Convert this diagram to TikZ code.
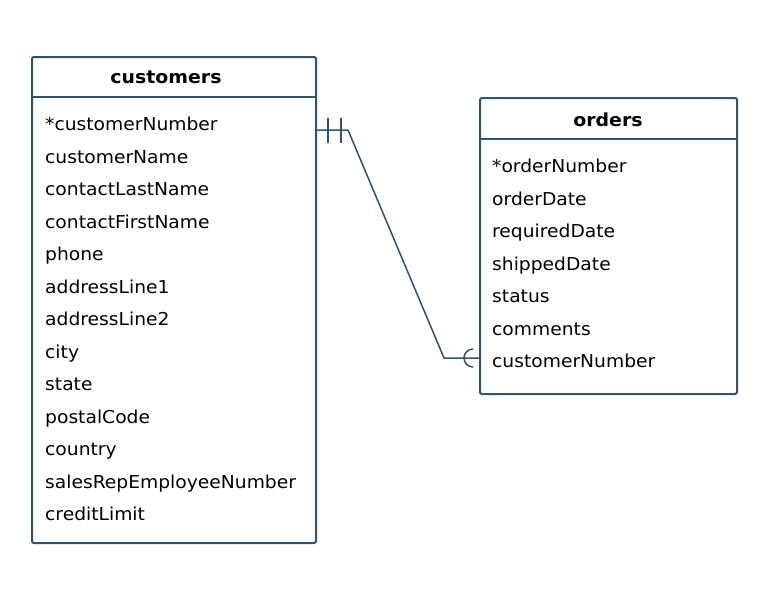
\documentclass[tikz,border=0pt]{standalone}
\usepackage{fontspec}
\setmainfont{DejaVu Sans}[FakeStretch=1.05]
\usetikzlibrary{calc}
\definecolor{edge}{HTML}{33526C}
\tikzset{
  entity/.style={draw=edge, line width=2pt, rounded corners=2pt, inner sep=0pt},
  hline/.style={draw=edge, line width=1.2pt},
  title/.style={font=\fontsize{18}{20}\selectfont\bfseries, anchor=base, inner sep=0pt},
  field/.style={font=\fontsize{17.8}{20}\selectfont, anchor=base west, inner sep=0pt},
  conn/.style={draw=edge, line width=1.5pt, line join=round},
  relmark/.style={draw=edge, line width=1.5pt}
}
\begin{document}
\begin{tikzpicture}[x=1pt,y=-1pt]
\useasboundingbox[fill=white] (0,0) rectangle (768,600);
% customers
\node[entity, minimum width=284pt, minimum height=486pt] (cust) at (174,300) {};
\draw[hline] (32,97) -- (316,97);
\node[title] (ct) at (166,83.5) {customers};
\foreach \t [count=\i] in {*customerNumber,customerName,contactLastName,contactFirstName,phone,addressLine1,addressLine2,city,state,postalCode,country,salesRepEmployeeNumber,creditLimit}{
  \node[field] (c\i) at (45,{130.5+32.5*(\i-1)}) {\t};
}
% orders
\node[entity, minimum width=257pt, minimum height=296pt] (ord) at (608.5,246) {};
\draw[hline] (480,139) -- (737,139);
\node[title] (ot) at (608,126.5) {orders};
\foreach \t [count=\i] in {*orderNumber,orderDate,requiredDate,shippedDate,status,comments,customerNumber}{
  \node[field] (o\i) at (492,{172.5+32.5*(\i-1)}) {\t};
}
% relationship
\coordinate (a) at (cust.east |- 0,130);
\coordinate (b) at (ord.west |- 0,358);
\draw[conn] (a) -- ++(31,0) -- ($(b)+(-35,0)$) -- (b);
\draw[relmark] ($(a)+(11,-12)$) -- ++(0,25);
\draw[relmark] ($(a)+(24,-12)$) -- ++(0,25);
\draw[relmark] ($(b)+(-6,-9)$) arc[start angle=270, end angle=90, radius=9];
\end{tikzpicture}
\end{document}
